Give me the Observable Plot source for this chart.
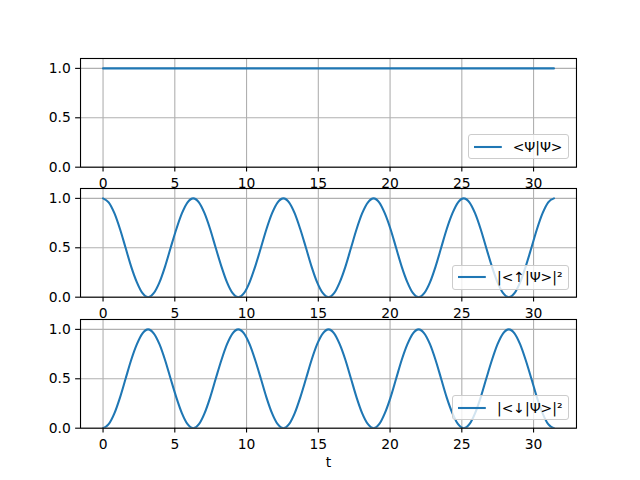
<!DOCTYPE html>
<html>
<head>
<meta charset="utf-8">
<script src="https://cdn.jsdelivr.net/npm/d3@7"></script>
<script src="https://cdn.jsdelivr.net/npm/@observablehq/plot@0.6"></script>
<style>
  html, body { margin: 0; padding: 0; background: white; }
  #fig { position: relative; width: 640px; height: 480px; background: white; overflow: hidden; font-family: "DejaVu Sans", sans-serif; }
  #fig svg.panel { position: absolute; left: 0; }
  .legend { position: absolute; box-sizing: border-box; height: 25px; border: 1px solid #cccccc; border-radius: 3px;
            background: rgba(255,255,255,0.8); display: flex; align-items: center; padding: 0 5.6px 0 5px;
            font-family: "DejaVu Sans", sans-serif; font-size: 13.9px; color: black; white-space: nowrap; }
  .legend svg { display: block; margin-right: 11.1px; }
</style>
</head>
<body>
<div id="fig"></div>
<script>
// ---- data ----
const normT = [0.00, 31.42];
const normV = [1.00, 1.00];

const t = [0.00, 0.39, 0.79, 1.18, 1.57, 1.96, 2.36, 2.75, 3.14, 3.53, 3.93, 4.32, 4.71, 5.11, 5.50, 5.89,
  6.28, 6.68, 7.07, 7.46, 7.85, 8.25, 8.64, 9.03, 9.42, 9.82, 10.21, 10.60, 11.00, 11.39, 11.78, 12.17,
  12.57, 12.96, 13.35, 13.74, 14.14, 14.53, 14.92, 15.32, 15.71, 16.10, 16.49, 16.89, 17.28, 17.67, 18.06, 18.46,
  18.85, 19.24, 19.63, 20.03, 20.42, 20.81, 21.21, 21.60, 21.99, 22.38, 22.78, 23.17, 23.56, 23.95, 24.35, 24.74,
  25.13, 25.53, 25.92, 26.31, 26.70, 27.10, 27.49, 27.88, 28.27, 28.67, 29.06, 29.45, 29.85, 30.24, 30.63, 31.02,
  31.42];

const upV = [1.00, 0.96, 0.85, 0.69, 0.50, 0.31, 0.15, 0.04, 0.00, 0.04, 0.15, 0.31, 0.50, 0.69, 0.85, 0.96,
  1.00, 0.96, 0.85, 0.69, 0.50, 0.31, 0.15, 0.04, 0.00, 0.04, 0.15, 0.31, 0.50, 0.69, 0.85, 0.96,
  1.00, 0.96, 0.85, 0.69, 0.50, 0.31, 0.15, 0.04, 0.00, 0.04, 0.15, 0.31, 0.50, 0.69, 0.85, 0.96,
  1.00, 0.96, 0.85, 0.69, 0.50, 0.31, 0.15, 0.04, 0.00, 0.04, 0.15, 0.31, 0.50, 0.69, 0.85, 0.96,
  1.00, 0.96, 0.85, 0.69, 0.50, 0.31, 0.15, 0.04, 0.00, 0.04, 0.15, 0.31, 0.50, 0.69, 0.85, 0.96,
  1.00];

const downV = [0.00, 0.04, 0.15, 0.31, 0.50, 0.69, 0.85, 0.96, 1.00, 0.96, 0.85, 0.69, 0.50, 0.31, 0.15, 0.04,
  0.00, 0.04, 0.15, 0.31, 0.50, 0.69, 0.85, 0.96, 1.00, 0.96, 0.85, 0.69, 0.50, 0.31, 0.15, 0.04,
  0.00, 0.04, 0.15, 0.31, 0.50, 0.69, 0.85, 0.96, 1.00, 0.96, 0.85, 0.69, 0.50, 0.31, 0.15, 0.04,
  0.00, 0.04, 0.15, 0.31, 0.50, 0.69, 0.85, 0.96, 1.00, 0.96, 0.85, 0.69, 0.50, 0.31, 0.15, 0.04,
  0.00, 0.04, 0.15, 0.31, 0.50, 0.69, 0.85, 0.96, 1.00, 0.96, 0.85, 0.69, 0.50, 0.31, 0.15, 0.04,
  0.00];

const xTicks = [0, 5, 10, 15, 20, 25, 30];
const yTicks = [0.0, 0.5, 1.0];
const labels = ["<Ψ|Ψ>", "|<↑|Ψ>|²", "|<↓|Ψ>|²"];
const xLabel = "t";

// ---- layout ----
const fig = document.getElementById("fig");
const frameH = 108.7;
const frameTops = [57.6, 188.1, 318.5];
const mTop = 10;
const color = "#1f77b4";

const panels = [
  {T: normT, V: normV, label: labels[0]},
  {T: t, V: upV, label: labels[1]},
  {T: t, V: downV, label: labels[2]}
];

panels.forEach((p, i) => {
  const last = i === panels.length - 1;
  const mBottom = last ? 50 : 30;
  const rows = p.T.map((x, j) => ({x, y: p.V[j]}));
  const marks = [
    Plot.gridX(xTicks, {stroke: "#b0b0b0", strokeOpacity: 1, strokeWidth: 1.1}),
    Plot.gridY(yTicks, {stroke: "#b0b0b0", strokeOpacity: 1, strokeWidth: 1.1}),
    Plot.line(rows, {x: "x", y: "y", stroke: color, strokeWidth: 2.08, curve: "monotone-x", clip: true}),
    Plot.frame({stroke: "black", strokeWidth: 1.1}),
    Plot.axisX(xTicks, {tickSize: 4.9, tickPadding: 6.4, strokeWidth: 1.1, fontSize: 13.9, label: null, tickFormat: d => String(d)}),
    Plot.axisY(yTicks, {tickSize: 4.9, tickPadding: 4.9, strokeWidth: 1.1, fontSize: 13.9, label: null, tickFormat: d3.format(".1f")})
  ];
  if (last) {
    marks.push(Plot.text([xLabel], {text: d => d, frameAnchor: "bottom", dy: 39, fontSize: 13.9, fill: "black"}));
  }
  const svg = Plot.plot({
    width: 640,
    height: frameH + mTop + mBottom,
    marginLeft: 80,
    marginRight: 64,
    marginTop: mTop,
    marginBottom: mBottom,
    x: {domain: [-1.57, 32.99]},
    y: {domain: [0, 1.1]},
    style: {background: "transparent", fontFamily: "DejaVu Sans, sans-serif", fontSize: "13.9px", color: "black", overflow: "visible"},
    marks
  });
  svg.classList.add("panel");
  svg.style.top = (frameTops[i] - mTop) + "px";
  svg.style.maxWidth = "none";
  fig.appendChild(svg);
});

panels.forEach((p, i) => {
  const lg = document.createElement("div");
  lg.className = "legend";
  const bottom = frameTops[i] + frameH - 6.9;
  lg.style.top = (bottom - 25) + "px";
  lg.style.right = (640 - 569.1) + "px";
  const ns = "http://www.w3.org/2000/svg";
  const s = document.createElementNS(ns, "svg");
  s.setAttribute("width", "27.8");
  s.setAttribute("height", "6");
  const ln = document.createElementNS(ns, "line");
  ln.setAttribute("x1", 0); ln.setAttribute("x2", 27.8);
  ln.setAttribute("y1", 3); ln.setAttribute("y2", 3);
  ln.setAttribute("stroke", color); ln.setAttribute("stroke-width", 2.08);
  s.appendChild(ln);
  lg.appendChild(s);
  const sp = document.createElement("span");
  sp.textContent = p.label;
  lg.appendChild(sp);
  fig.appendChild(lg);
});
</script>
</body>
</html>
